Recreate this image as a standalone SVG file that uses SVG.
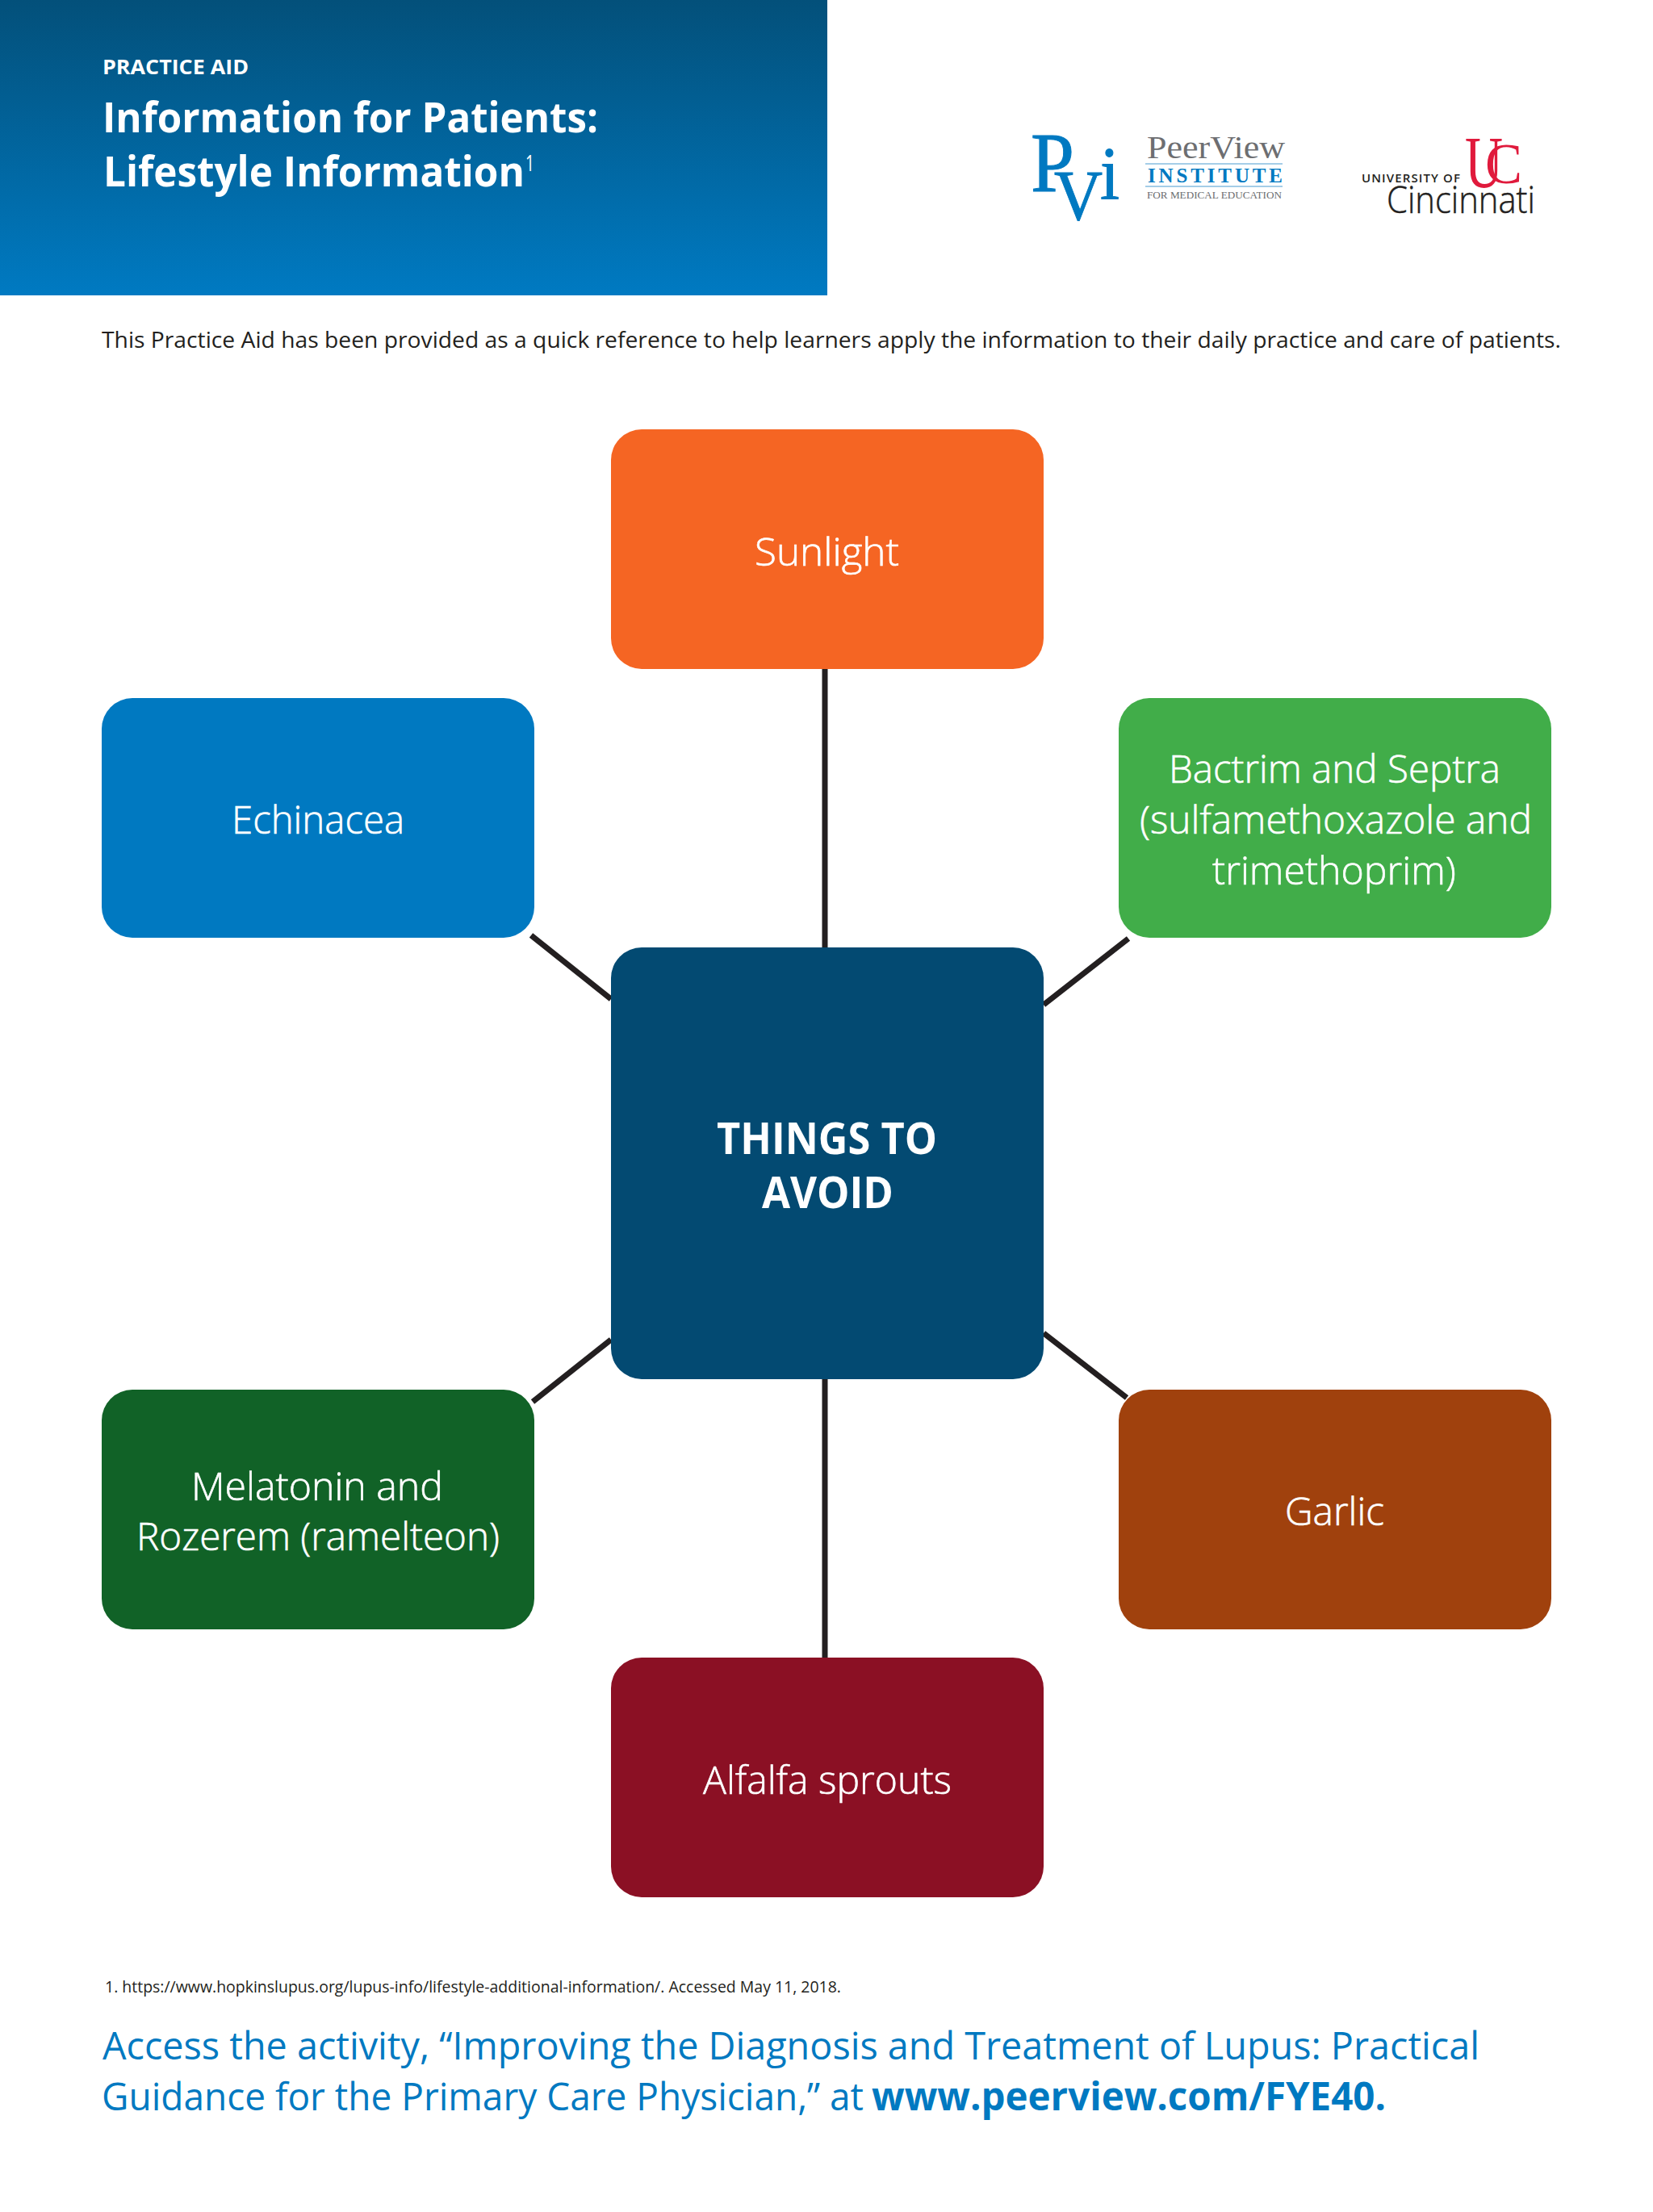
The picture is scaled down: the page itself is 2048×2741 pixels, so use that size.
<svg xmlns="http://www.w3.org/2000/svg" width="2048" height="2741" viewBox="0 0 2048 2741">
<style>
text{font-family:"Open Sans","Noto Sans","Liberation Sans",sans-serif}
.w{fill:#fff}
.h{font-weight:700}
.n{fill:#fff;font-size:48px;font-weight:300;stroke:#fff;stroke-width:.6px}
.b{fill:#0079c1;font-size:48px;font-weight:400}
.s{font-family:"Liberation Serif",serif}
.c{stroke:#231f20;stroke-width:7;fill:none}
</style>
<defs><linearGradient id="hg" x1="0" y1="0" x2="0" y2="1"><stop offset="0" stop-color="#03507a"/><stop offset="1" stop-color="#007ac2"/></linearGradient></defs>
<rect width="2048" height="2741" fill="#fff"/>
<g id="header">
<rect width="1025" height="366" fill="url(#hg)"/>
<text class="w h" x="127" y="92" font-size="25" textLength="181" lengthAdjust="spacingAndGlyphs">PRACTICE AID</text>
<text class="w h" x="127" y="164" font-size="52" textLength="614" lengthAdjust="spacingAndGlyphs">Information for Patients:</text>
<text class="w h" x="128" y="231" font-size="52" textLength="522" lengthAdjust="spacingAndGlyphs">Lifestyle Information</text>
<text class="w" x="651" y="212" font-size="27" font-weight="400" textLength="11" lengthAdjust="spacingAndGlyphs">1</text>
</g>
<g id="logo-pvi">
<text class="s" x="1277" y="237" font-size="106" fill="#0079c1" stroke="#0079c1" stroke-width="1" textLength="54" lengthAdjust="spacingAndGlyphs">P</text>
<text class="s" x="1306" y="272" font-size="88" fill="#0079c1" stroke="#0079c1" stroke-width="1" textLength="60" lengthAdjust="spacingAndGlyphs">V</text>
<text class="s" x="1363" y="246" font-size="93" fill="#0079c1" stroke="#0079c1" stroke-width="1" textLength="24" lengthAdjust="spacingAndGlyphs">i</text>
<text class="s" x="1421" y="196" font-size="40" fill="#6d6e71" textLength="171" lengthAdjust="spacingAndGlyphs">PeerView</text>
<line x1="1419" y1="203" x2="1589" y2="203" stroke="#4a9bd0" stroke-width="1"/>
<text class="s" x="1422" y="226" font-size="25" font-weight="700" fill="#0079c1" textLength="167" lengthAdjust="spacing">INSTITUTE</text>
<line x1="1419" y1="231" x2="1589" y2="231" stroke="#4a9bd0" stroke-width="1"/>
<text class="s" x="1421" y="246" font-size="13.5" fill="#6d6e71" textLength="167" lengthAdjust="spacingAndGlyphs">FOR MEDICAL EDUCATION</text>
</g>
<g id="logo-uc">
<text x="1687" y="226" font-size="15" font-weight="600" fill="#231f20" textLength="122" lengthAdjust="spacing">UNIVERSITY OF</text>
<text class="s" x="1815" y="232" font-size="90" fill="#e01a3c" textLength="47" lengthAdjust="spacingAndGlyphs">U</text>
<text class="s" x="1840" y="227" font-size="72" fill="#e01a3c" textLength="46" lengthAdjust="spacingAndGlyphs">C</text>
<text x="1718" y="264" font-size="46" font-weight="300" stroke="#231f20" stroke-width=".5" fill="#231f20" textLength="184" lengthAdjust="spacingAndGlyphs">Cincinnati</text>
</g>
<text id="intro" x="126" y="431" font-size="28" fill="#231f20" textLength="1808" lengthAdjust="spacingAndGlyphs">This Practice Aid has been provided as a quick reference to help learners apply the information to their daily practice and care of patients.</text>
<g id="connectors">
<line class="c" x1="1022" y1="829" x2="1022" y2="1174"/>
<line class="c" x1="1022" y1="1709" x2="1022" y2="2054"/>
<line class="c" x1="658" y1="1159" x2="757" y2="1238"/>
<line class="c" x1="1398" y1="1163" x2="1293" y2="1245"/>
<line class="c" x1="660" y1="1737" x2="757" y2="1660"/>
<line class="c" x1="1396" y1="1732" x2="1293" y2="1652"/>
</g>
<g id="sunlight"><rect x="757" y="532" width="536" height="297" rx="38" fill="#f56523"/>
<text class="n" x="935" y="701" textLength="179" lengthAdjust="spacingAndGlyphs">Sunlight</text></g>
<g id="echinacea"><rect x="126" y="865" width="536" height="297" rx="38" fill="#0079c1"/>
<text class="n" x="287" y="1033" textLength="214" lengthAdjust="spacingAndGlyphs">Echinacea</text></g>
<g id="bactrim"><rect x="1386" y="865" width="536" height="297" rx="38" fill="#41ad49"/>
<text class="n" x="1448" y="970" textLength="411" lengthAdjust="spacingAndGlyphs">Bactrim and Septra</text>
<text class="n" x="1412" y="1033" textLength="486" lengthAdjust="spacingAndGlyphs">(sulfamethoxazole and</text>
<text class="n" x="1502" y="1096" textLength="302" lengthAdjust="spacingAndGlyphs">trimethoprim)</text></g>
<g id="center"><rect x="757" y="1174" width="536" height="535" rx="38" fill="#034a72"/>
<text class="w h" x="888" y="1430" font-size="53" textLength="273" lengthAdjust="spacingAndGlyphs">THINGS TO</text>
<text class="w h" x="944" y="1497" font-size="53" textLength="163" lengthAdjust="spacingAndGlyphs">AVOID</text></g>
<g id="melatonin"><rect x="126" y="1722" width="536" height="297" rx="38" fill="#116227"/>
<text class="n" x="237" y="1859" textLength="312" lengthAdjust="spacingAndGlyphs">Melatonin and</text>
<text class="n" x="169" y="1921" textLength="450" lengthAdjust="spacingAndGlyphs">Rozerem (ramelteon)</text></g>
<g id="garlic"><rect x="1386" y="1722" width="536" height="297" rx="38" fill="#a0410d"/>
<text class="n" x="1592" y="1890" textLength="123" lengthAdjust="spacingAndGlyphs">Garlic</text></g>
<g id="alfalfa"><rect x="757" y="2054" width="536" height="297" rx="38" fill="#8b1024"/>
<text class="n" x="871" y="2223" textLength="308" lengthAdjust="spacingAndGlyphs">Alfalfa sprouts</text></g>
<g id="footer">
<text x="130" y="2469" font-size="20" fill="#231f20" textLength="912" lengthAdjust="spacingAndGlyphs">1. https://www.hopkinslupus.org/lupus-info/lifestyle-additional-information/. Accessed May 11, 2018.</text>
<text class="b" x="127" y="2552" textLength="1706" lengthAdjust="spacingAndGlyphs">Access the activity, “Improving the Diagnosis and Treatment of Lupus: Practical</text>
<text class="b" x="126" y="2615" textLength="944" lengthAdjust="spacingAndGlyphs">Guidance for the Primary Care Physician,” at</text>
<text class="b" x="1080" y="2615" style="font-weight:700" textLength="637" lengthAdjust="spacingAndGlyphs">www.peerview.com/FYE40.</text>
</g>
</svg>
